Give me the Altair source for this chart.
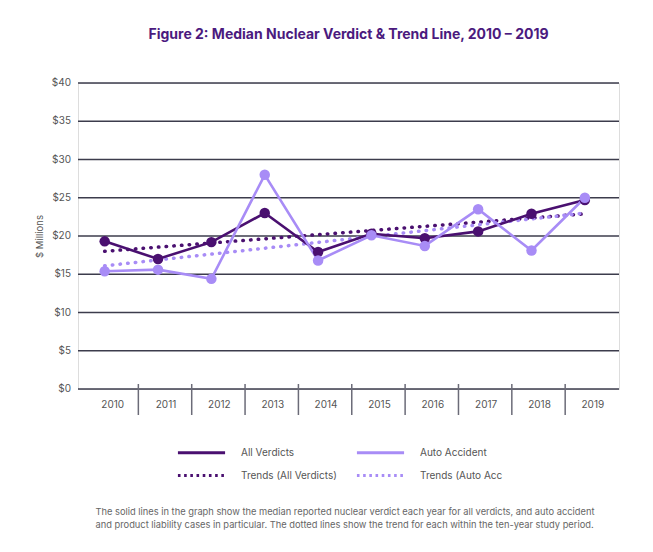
import altair as alt
import pandas as pd

years = [2010, 2011, 2012, 2013, 2014, 2015, 2016, 2017, 2018, 2019]
all_verdicts = [19.3, 17.0, 19.2, 23.0, 17.9, 20.3, 19.7, 20.6, 22.9, 24.7]
auto_accident = [15.4, 15.6, 14.4, 28.0, 16.8, 20.1, 18.7, 23.5, 18.1, 25.0]
trend_years = [2010, 2019]
trend_all = [18.0, 22.9]
trend_auto = [16.1, 23.0]
series_names = ["All Verdicts", "Trends (All Verdicts)", "Auto Accident", "Trends (Auto Acc"]
y_ticks = [0, 5, 10, 15, 20, 25, 30, 35, 40]
caption = [
    "The solid lines in the graph show the median reported nuclear verdict each year for all verdicts, and auto accident",
    "and product liability cases in particular. The dotted lines show the trend for each within the ten-year study period.",
]

DARK = "#4a1070"
LIGHT = "#a88cf6"
W, H = 541, 306
FONT = "Inter"

solid = pd.DataFrame(
    [{"year": y, "value": v, "series": series_names[0]} for y, v in zip(years, all_verdicts)]
    + [{"year": y, "value": v, "series": series_names[2]} for y, v in zip(years, auto_accident)]
)
trend = pd.DataFrame(
    [{"year": y, "value": v, "series": series_names[1]} for y, v in zip(trend_years, trend_all)]
    + [{"year": y, "value": v, "series": series_names[3]} for y, v in zip(trend_years, trend_auto)]
)
ticks_df = pd.DataFrame({"year": years[1:]})
grid_df = pd.DataFrame({"value": y_ticks})

xscale = alt.Scale(type="band", paddingInner=0, paddingOuter=0.07, align=0, domain=years)
yscale = alt.Scale(domain=[0, 40], nice=False)
color = alt.Color(
    "series:N",
    scale=alt.Scale(domain=series_names, range=[DARK, DARK, LIGHT, LIGHT]),
    legend=alt.Legend(
        title=None,
        orient="none",
        legendX=116,
        legendY=362,
        columns=2,
        columnPadding=13,
        rowPadding=9,
        symbolType="M-4,0H4",
        symbolSize=139,
        symbolStrokeWidth=3,
        symbolDash=alt.ExprRef("indexof(datum.label, 'Trends') >= 0 ? [2.6, 3.6] : [1, 0]"),
        labelOffset=32,
        labelFont=FONT,
        labelFontSize=10,
        labelColor="#555555",
    ),
)

x_axis = alt.Axis(
    title=caption,
    titleAnchor="start",
    titleAlign="left",
    titleX=17,
    titleY=118,
    titleBaseline="top",
    titleFont=FONT,
    titleFontSize=9.3,
    titleFontWeight="normal",
    titleColor="#666666",
    titleLineHeight=13,
    labelAngle=0,
    labelOffset=8,
    labelPadding=10,
    labelFont=FONT,
    labelFontSize=10,
    labelColor="#555555",
    ticks=False,
    domain=False,
    grid=False,
)
y_axis = alt.Axis(
    title="$ Millions",
    titleFont=FONT,
    titleFontSize=9.5,
    titleFontWeight="normal",
    titleColor="#555555",
    titlePadding=34,
    labels=False,
    grid=False,
    ticks=False,
    domain=False,
)

grid = alt.Chart(grid_df).mark_rule(color="#3c3c4c", strokeWidth=1.3).encode(
    y=alt.Y("value:Q", scale=yscale, axis=y_axis),
    x=alt.value(0),
    x2=alt.value(W),
)
grid_labels = (
    alt.Chart(grid_df)
    .transform_calculate(label="'$' + datum.value")
    .mark_text(align="right", baseline="middle", font=FONT, fontSize=10, color="#555555", dx=-7)
    .encode(
        y=alt.Y("value:Q", scale=yscale, axis=y_axis),
        x=alt.value(0),
        text="label:N",
    )
)

tick_rules = alt.Chart(ticks_df).mark_rule(color="#6b6b78", strokeWidth=1.5, xOffset=7).encode(
    x=alt.X("year:O", scale=xscale, bandPosition=0, axis=x_axis),
    y=alt.value(H - 5),
    y2=alt.value(H + 26),
)

trend_lines = alt.Chart(trend).mark_line(strokeWidth=3.5, strokeDash=[0.5, 7.2], strokeCap="round").encode(
    x=alt.X("year:O", scale=xscale, axis=x_axis),
    y=alt.Y("value:Q", scale=yscale, axis=y_axis),
    color=color,
    detail="series:N",
)

lines = alt.Chart(solid).mark_line(strokeWidth=2.6).encode(
    x=alt.X("year:O", scale=xscale, axis=x_axis),
    y=alt.Y("value:Q", scale=yscale, axis=y_axis),
    color=color,
)
points = alt.Chart(solid).mark_circle(size=110, opacity=1).encode(
    x=alt.X("year:O", scale=xscale, axis=x_axis),
    y=alt.Y("value:Q", scale=yscale, axis=y_axis),
    color=color,
)

chart = (
    alt.layer(grid, grid_labels, tick_rules, trend_lines, lines, points)
    .properties(
        width=W,
        height=H,
        title=alt.Title(
            "Figure 2: Median Nuclear Verdict & Trend Line, 2010 \u2013 2019",
            font=FONT,
            fontSize=14,
            fontWeight="bold",
            color="#4b1a7e",
            anchor="middle",
            offset=36,
        ),
        padding={"left": 70, "top": 75, "right": 26, "bottom": 155},
        autosize="none",
    )
    .configure_view(stroke=None)
    .configure(background="white")
)

chart.save("out.html", embed_options={"renderer": "svg", "actions": False})
